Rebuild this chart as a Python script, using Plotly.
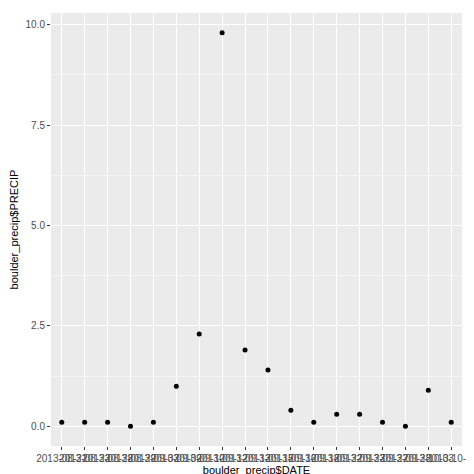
import plotly.graph_objects as go

dates = ["2013-08-21", "2013-08-23", "2013-08-28", "2013-08-29", "2013-09-03",
         "2013-09-09", "2013-09-10", "2013-09-12", "2013-09-13", "2013-09-15",
         "2013-09-16", "2013-09-18", "2013-09-22", "2013-09-23", "2013-09-27",
         "2013-09-28", "2013-10-03", "2013-10-11"]
precip = [0.1, 0.1, 0.1, 0.0, 0.1, 1.0, 2.3, 9.8, 1.9, 1.4, 0.4, 0.1, 0.3, 0.3,
          0.1, 0.0, 0.9, 0.1]

fig = go.Figure(go.Scatter(x=dates, y=precip, mode="markers",
                           marker=dict(color="black", size=5)))

grid = dict(gridcolor="white", gridwidth=1.2, zeroline=False, ticks="outside",
            ticklen=3, tickcolor="#333333", tickfont=dict(color="#4d4d4d", size=10))
fig.update_layout(
    width=474, height=474,
    margin=dict(l=43, r=8, t=5, b=36),
    paper_bgcolor="white", plot_bgcolor="#ebebeb",
    font=dict(family="Liberation Sans, Arial", color="black"),
    showlegend=False,
    xaxis=dict(type="category", title=dict(text="boulder_precip$DATE", font=dict(size=11), standoff=0),
               tickangle=0, range=[-0.47, 17.47], **grid),
    yaxis=dict(title=dict(text="boulder_precip$PRECIP", font=dict(size=11), standoff=4),
               tickvals=[0, 2.5, 5, 7.5, 10], ticktext=["0.0", "2.5", "5.0", "7.5", "10.0"],
               range=[-0.49, 10.29], minor=dict(tickvals=[1.25, 3.75, 6.25, 8.75],
                                                 gridcolor="#f5f5f5", showgrid=True), **grid),
)
fig.write_html("out.html")
